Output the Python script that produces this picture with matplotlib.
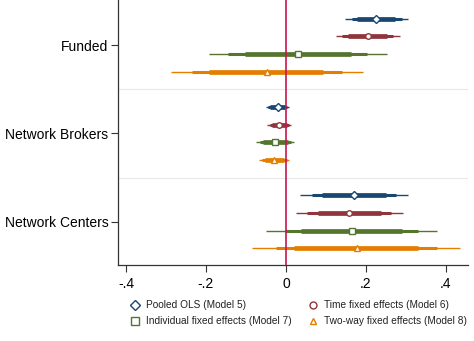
import matplotlib
matplotlib.use("Agg")
import matplotlib.pyplot as plt
from matplotlib.lines import Line2D

plt.rcParams["font.family"] = ["Liberation Sans", "DejaVu Sans"]

# --- data ---
categories = ["Funded", "Network Brokers", "Network Centers"]
models = ["Pooled OLS (Model 5)", "Time fixed effects (Model 6)",
          "Individual fixed effects (Model 7)", "Two-way fixed effects (Model 8)"]

# point estimates, one list per model, in category order
est_pooled = [0.225, -0.019, 0.170]
est_time = [0.205, -0.018, 0.158]
est_indiv = [0.031, -0.028, 0.164]
est_twoway = [-0.048, -0.029, 0.177]

# confidence intervals (lo, hi): 99% thin, 95% medium, 90% thick
ci99_pooled = [(0.148, 0.305), (-0.051, 0.008), (0.035, 0.306)]
ci95_pooled = [(0.165, 0.290), (-0.045, 0.003), (0.064, 0.275)]
ci90_pooled = [(0.177, 0.272), (-0.040, -0.003), (0.091, 0.250)]

ci99_time = [(0.124, 0.285), (-0.047, 0.012), (0.024, 0.293)]
ci95_time = [(0.140, 0.268), (-0.041, 0.007), (0.053, 0.264)]
ci90_time = [(0.155, 0.252), (-0.036, 0.002), (0.079, 0.239)]

ci99_indiv = [(-0.192, 0.252), (-0.076, 0.021), (-0.051, 0.378)]
ci95_indiv = [(-0.144, 0.204), (-0.066, 0.012), (-0.003, 0.331)]
ci90_indiv = [(-0.103, 0.163), (-0.058, 0.004), (0.038, 0.291)]

ci99_twoway = [(-0.288, 0.192), (-0.068, 0.008), (-0.084, 0.435)]
ci95_twoway = [(-0.236, 0.139), (-0.060, 0.002), (-0.026, 0.379)]
ci90_twoway = [(-0.192, 0.093), (-0.053, -0.004), (0.020, 0.331)]

xticks = [-0.4, -0.2, 0, 0.2, 0.4]
xticklabels = ["-.4", "-.2", "0", ".2", ".4"]

# --- styling ---
colors = ["#1a476f", "#90353b", "#55752f", "#e37e00"]
markers = ["D", "o", "s", "^"]
msizes = [4, 4, 4.5, 4]
offsets = [-0.3, -0.1, 0.1, 0.3]

estimates = [est_pooled, est_time, est_indiv, est_twoway]
ci99 = [ci99_pooled, ci99_time, ci99_indiv, ci99_twoway]
ci95 = [ci95_pooled, ci95_time, ci95_indiv, ci95_twoway]
ci90 = [ci90_pooled, ci90_time, ci90_indiv, ci90_twoway]

fig = plt.figure(figsize=(4.74, 3.41), dpi=100)
ax = fig.add_axes([0.249, 0.223, 0.738, 0.777])

for m in range(len(models)):
    for c in range(len(categories)):
        y = c + offsets[m]
        for ci, lw in ((ci99, 1.0), (ci95, 2.2), (ci90, 3.4)):
            lo, hi = ci[m][c]
            ax.plot([lo, hi], [y, y], color=colors[m], lw=lw,
                    solid_capstyle="butt", zorder=2)
        ax.plot(estimates[m][c], y, marker=markers[m], ms=msizes[m],
                mfc="white", mec=colors[m], mew=1.0, ls="none", zorder=4)

# separators between groups
for s in (0.5, 1.5):
    ax.axhline(s, color="#e8e8e8", lw=0.8, zorder=1)

# reference line at zero
ax.axvline(0, color="#c8174d", lw=1.2, zorder=3)

ax.set_xlim(-0.42, 0.455)
ax.set_ylim(2.49, -0.51)
ax.set_yticks(range(len(categories)))
ax.set_yticklabels(categories, fontsize=10)
ax.set_xticks(xticks)
ax.set_xticklabels(xticklabels, fontsize=10)
ax.tick_params(axis="both", direction="out", length=5, width=0.8,
               color="#333333")
ax.tick_params(axis="y", pad=2)
ax.tick_params(axis="x", pad=4)
ax.spines["top"].set_visible(False)
ax.spines["right"].set_visible(False)
for sp in ("left", "bottom"):
    ax.spines[sp].set_color("#333333")
    ax.spines[sp].set_linewidth(0.9)

# legend filled row by row: matplotlib fills columns, so reorder
order = [0, 2, 1, 3]
handles = [Line2D([], [], marker=markers[m], ms=msizes[m] + 1, mfc="white",
                  mec=colors[m], mew=1.0, ls="none") for m in order]
fig.legend(handles, [models[m] for m in order], loc="lower left",
           bbox_to_anchor=(0.255, 0.016), ncol=2, frameon=False, fontsize=7.3,
           handletextpad=0.6, columnspacing=1.6, labelspacing=0.6,
           handlelength=1.0, labelcolor="#222222")

fig.savefig("out.png", dpi=100)
